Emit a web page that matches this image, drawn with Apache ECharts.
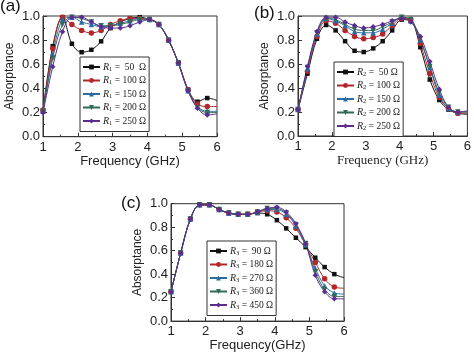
<!DOCTYPE html>
<html><head><meta charset="utf-8">
<script src="https://cdn.jsdelivr.net/npm/echarts@6/dist/echarts.min.js"></script>
<style>html,body{margin:0;padding:0;background:#fff}#c{width:474px;height:353px}</style>
</head><body><div id="c"></div>
<script>
// Frequencies (GHz)
const freq = [1.00, 1.28, 1.56, 1.83, 2.11, 2.39, 2.67, 2.94, 3.22, 3.50, 3.78, 4.06, 4.33, 4.61, 4.89, 5.17, 5.44, 5.72, 6.00];
const xTicks = [1, 2, 3, 4, 5, 6];
const yTicks = [0.0, 0.2, 0.4, 0.6, 0.8, 1.0];

// Panel (a): R1
const namesA = ['R1 =  50  Ω', 'R1 = 100 Ω', 'R1 = 150 Ω', 'R1 = 200 Ω', 'R1 = 250 Ω'];
const a50  = [0.22, 0.75, 0.99, 0.77, 0.70, 0.72, 0.79, 0.90, 0.95, 0.98, 0.99, 0.97, 0.93, 0.80, 0.61, 0.39, 0.29, 0.32, 0.30];
const a100 = [0.22, 0.73, 0.99, 0.93, 0.88, 0.86, 0.88, 0.93, 0.96, 0.98, 0.98, 0.97, 0.93, 0.80, 0.61, 0.39, 0.27, 0.25, 0.25];
const a150 = [0.21, 0.68, 0.97, 0.99, 0.95, 0.93, 0.91, 0.92, 0.94, 0.96, 0.98, 0.97, 0.93, 0.80, 0.61, 0.38, 0.25, 0.21, 0.21];
const a200 = [0.21, 0.65, 0.93, 0.99, 0.98, 0.95, 0.92, 0.92, 0.93, 0.95, 0.97, 0.97, 0.93, 0.80, 0.61, 0.38, 0.24, 0.20, 0.20];
const a250 = [0.20, 0.58, 0.87, 0.99, 0.99, 0.95, 0.91, 0.90, 0.90, 0.92, 0.95, 0.97, 0.93, 0.80, 0.61, 0.38, 0.235, 0.18, 0.19];

// Panel (b): R2
const namesB = ['R2 =  50 Ω', 'R2 = 100 Ω', 'R2 = 150 Ω', 'R2 = 200 Ω', 'R2 = 250 Ω'];
const b50  = [0.22, 0.52, 0.81, 0.925, 0.88, 0.79, 0.71, 0.70, 0.73, 0.79, 0.88, 0.97, 0.96, 0.74, 0.47, 0.30, 0.22, 0.19, 0.18];
const b100 = [0.22, 0.54, 0.83, 0.96, 0.94, 0.88, 0.83, 0.81, 0.82, 0.85, 0.92, 0.98, 0.97, 0.77, 0.52, 0.32, 0.23, 0.19, 0.19];
const b150 = [0.22, 0.56, 0.85, 0.98, 0.96, 0.92, 0.87, 0.86, 0.86, 0.89, 0.94, 0.99, 0.96, 0.80, 0.57, 0.34, 0.23, 0.20, 0.20];
const b200 = [0.22, 0.57, 0.86, 0.98, 0.97, 0.93, 0.89, 0.88, 0.88, 0.91, 0.95, 0.99, 0.97, 0.81, 0.58, 0.36, 0.24, 0.20, 0.20];
const b250 = [0.22, 0.58, 0.87, 0.99, 0.99, 0.95, 0.92, 0.90, 0.91, 0.93, 0.96, 0.98, 0.95, 0.83, 0.62, 0.39, 0.24, 0.20, 0.21];

// Panel (c): R3
const namesC = ['R3 =  90 Ω', 'R3 = 180 Ω', 'R3 = 270 Ω', 'R3 = 360 Ω', 'R3 = 450 Ω'];
const c90  = [0.25, 0.58, 0.87, 0.99, 0.99, 0.95, 0.92, 0.91, 0.91, 0.92, 0.91, 0.86, 0.79, 0.71, 0.63, 0.54, 0.46, 0.40, 0.37];
const c180 = [0.25, 0.58, 0.87, 0.99, 0.99, 0.95, 0.92, 0.91, 0.91, 0.93, 0.94, 0.93, 0.88, 0.79, 0.65, 0.50, 0.36, 0.29, 0.28];
const c270 = [0.25, 0.58, 0.87, 0.99, 0.99, 0.95, 0.92, 0.91, 0.91, 0.93, 0.95, 0.95, 0.91, 0.81, 0.65, 0.45, 0.30, 0.24, 0.23];
const c360 = [0.25, 0.58, 0.87, 0.99, 0.99, 0.95, 0.92, 0.91, 0.91, 0.93, 0.96, 0.96, 0.92, 0.82, 0.66, 0.42, 0.27, 0.21, 0.21];
const c450 = [0.25, 0.58, 0.87, 0.99, 0.99, 0.95, 0.92, 0.91, 0.91, 0.93, 0.96, 0.97, 0.93, 0.83, 0.66, 0.39, 0.25, 0.19, 0.19];

const colors = ['#111111', '#b3262a', '#2b6ca3', '#2f6b57', '#5c2d91'];
const symbols = ['rect', 'circle', 'triangle', 'triangle', 'diamond'];
const rotates = [0, 0, 0, 180, 0];

const sans = 'Liberation Sans, Arial, sans-serif';
const serif = 'Liberation Serif, Times New Roman, serif';

function mkData(vals) {
  return freq.map((f, i) => i === freq.length - 1 ? { value: [f, vals[i]], symbol: 'none' } : [f, vals[i]]);
}
function mkSeries(names, arrs, idx) {
  return arrs.map((vals, k) => ({
    name: names[k], type: 'line', xAxisIndex: idx, yAxisIndex: idx,
    data: mkData(vals), smooth: 0.35,
    symbol: symbols[k], symbolRotate: rotates[k],
    symbolSize: k === 0 ? 4.5 : 5.5,
    lineStyle: { width: 1, color: colors[k] },
    itemStyle: { color: colors[k] },
    emphasis: { disabled: true }, animation: false
  }));
}
function mkGrid(left, top, width, height) {
  return { left, top, width, height, show: true, borderColor: '#333', borderWidth: 1, backgroundColor: 'transparent' };
}
function mkX(idx, name, nameFont) {
  return {
    gridIndex: idx, type: 'value', min: xTicks[0], max: xTicks[xTicks.length - 1], interval: 1,
    name, nameLocation: 'middle', nameGap: 16,
    nameTextStyle: { fontFamily: nameFont, fontSize: 13, color: '#222' },
    axisLine: { onZero: false, lineStyle: { color: '#333', width: 1 } },
    axisTick: { inside: true, length: 4, lineStyle: { color: '#333' } },
    minorTick: { show: true, splitNumber: 2, length: 2, lineStyle: { color: '#333' } },
    splitLine: { show: false },
    axisLabel: { fontFamily: sans, fontSize: 13, color: '#222', margin: 4 }
  };
}
function mkY(idx) {
  return {
    gridIndex: idx, type: 'value', min: yTicks[0], max: yTicks[yTicks.length - 1], interval: 0.2,
    name: 'Absorptance', nameLocation: 'middle', nameGap: 27,
    nameTextStyle: { fontFamily: sans, fontSize: 12, color: '#222' },
    axisLine: { onZero: false, lineStyle: { color: '#333', width: 1 } },
    axisTick: { inside: true, length: 4, lineStyle: { color: '#333' } },
    minorTick: { show: true, splitNumber: 2, length: 2, lineStyle: { color: '#333' } },
    splitLine: { show: false },
    axisLabel: { fontFamily: sans, fontSize: 13, color: '#222', margin: 3, formatter: v => v.toFixed(1) }
  };
}
function legendFmt(name) {
  const m = name.match(/^R(\d)(.*)$/);
  return '{r|R}{s|' + m[1] + '}{t|' + m[2] + '}';
}
function mkLegend(names, left, top) {
  return {
    data: names, orient: 'vertical', left, top,
    itemWidth: 17, itemHeight: 6, itemGap: 3,
    padding: [5, 3, 5, 2],
    borderColor: '#333', borderWidth: 1, backgroundColor: '#fff',
    selectedMode: false,
    formatter: legendFmt,
    textStyle: {
      color: '#222', fontFamily: serif, fontSize: 9.5, padding: [0, 0, 0, -2],
      rich: {
        r: { fontFamily: serif, fontStyle: 'italic', fontSize: 10, color: '#222', height: 10 },
        s: { fontFamily: serif, fontSize: 6.5, color: '#222', verticalAlign: 'bottom', padding: [4, 0, 0, 0] },
        t: { fontFamily: serif, fontSize: 9.5, color: '#222', height: 10 }
      }
    }
  };
}

const option = {
  animation: false,
  backgroundColor: '#fff',
  grid: [mkGrid(43, 16, 174, 120.7), mkGrid(298, 16, 173, 120), mkGrid(171, 203.7, 173, 120.3)],
  xAxis: [mkX(0, 'Frequency (GHz)', sans), mkX(1, 'Frequency (GHz)', serif), mkX(2, 'Frequency(GHz)', sans)],
  yAxis: [mkY(0), mkY(1), mkY(2)],
  legend: [mkLegend(namesA, 80, 57), mkLegend(namesB, 334, 62), mkLegend(namesC, 207, 241)],
  series: [].concat(
    mkSeries(namesA, [a50, a100, a150, a200, a250], 0),
    mkSeries(namesB, [b50, b100, b150, b200, b250], 1),
    mkSeries(namesC, [c90, c180, c270, c360, c450], 2)
  ),
  graphic: [
    { type: 'text', left: 0, top: -2, style: { text: '(a)', font: '17px ' + sans, fill: '#111' } },
    { type: 'text', left: 254, top: 5, style: { text: '(b)', font: '17px ' + sans, fill: '#111' } },
    { type: 'text', left: 121, top: 195, style: { text: '(c)', font: '17px ' + sans, fill: '#111' } }
  ]
};
const chart = echarts.init(document.getElementById('c'), null, { renderer: 'canvas' });
chart.setOption(option);
</script></body></html>
